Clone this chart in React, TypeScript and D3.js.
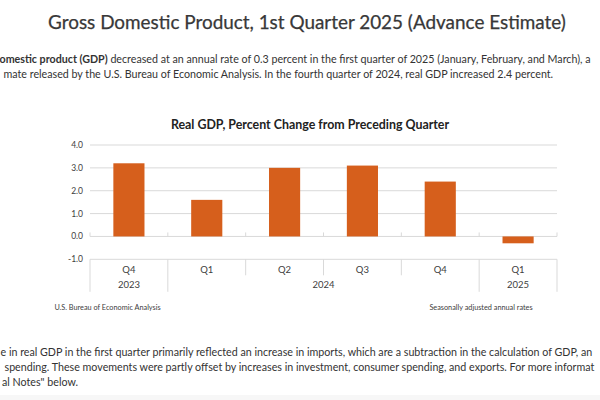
import { useRef, useEffect } from 'react';
import * as d3 from 'd3';

const quarters = ['Q4', 'Q1', 'Q2', 'Q3', 'Q4', 'Q1'];
const years = ['2023', '2024', '2024', '2024', '2024', '2025'];
const values = [3.2, 1.6, 3.0, 3.1, 2.4, -0.3];
const yTicks = [-1, 0, 1, 2, 3, 4];

const pageTitle = 'Gross Domestic Product, 1st Quarter 2025 (Advance Estimate)';
const chartTitle = 'Real GDP, Percent Change from Preceding Quarter';
const sourceNote = 'U.S. Bureau of Economic Analysis';
const rateNote = 'Seasonally adjusted annual rates';

export default function App() {
    const svgRef = useRef<SVGSVGElement>(null);

    useEffect(() => {
        if (!svgRef.current) return;
        const width = 600;
        const height = 400;
        const svg = d3.select(svgRef.current)
            .attr('width', width)
            .attr('height', height)
            .attr('viewBox', `0 0 ${width} ${height}`);
        svg.selectAll('*').remove();

        const font = 'Lato, "Open Sans", sans-serif';
        const bar = '#d65f1c';
        const grid = '#d9d9d9';
        const paraSize = 10.7;

        svg.append('rect').attr('width', width).attr('height', height).attr('fill', '#fff');

        // Page heading
        svg.append('text')
            .attr('x', 307)
            .attr('y', 29)
            .attr('text-anchor', 'middle')
            .attr('font-family', font)
            .attr('font-size', 18.9)
            .attr('fill', '#383838')
            .attr('stroke', '#383838')
            .attr('stroke-width', 0.25)
            .text(pageTitle);

        // Intro paragraph (clipped at the page edges)
        const p1 = svg.append('text')
            .attr('x', -0.5)
            .attr('y', 63)
            .attr('font-family', font)
            .attr('font-size', paraSize)
            .attr('fill', '#333');
        p1.append('tspan').attr('font-weight', 'bold').text('omestic product (GDP)');
        p1.append('tspan').text(' decreased at an annual rate of 0.3 percent in the first quarter of 2025 (January, February, and March), a');

        svg.append('text')
            .attr('x', 3.5)
            .attr('y', 78)
            .attr('font-family', font)
            .attr('font-size', paraSize)
            .attr('fill', '#333')
            .text('mate released by the U.S. Bureau of Economic Analysis. In the fourth quarter of 2024, real GDP increased 2.4 percent.');

        // Chart
        const left = 90;
        const right = 557;
        const idx = values.map((_, i) => String(i));

        const x = d3.scaleBand<string>()
            .domain(idx)
            .range([left, right])
            .paddingInner(0.6)
            .paddingOuter(0.3);
        const step = x.step();
        const edge = (i: number) => left + i * step;

        const y = d3.scaleLinear()
            .domain([-1, 4])
            .range([259.3, 145]);

        svg.append('text')
            .attr('x', 310)
            .attr('y', 129)
            .attr('text-anchor', 'middle')
            .attr('font-family', font)
            .attr('font-weight', 'bold')
            .attr('font-size', 12.4)
            .attr('fill', '#222')
            .text(chartTitle);

        // Grid lines
        const g = svg.append('g');
        g.selectAll('line.grid')
            .data(yTicks)
            .enter()
            .append('line')
            .attr('x1', left)
            .attr('x2', right)
            .attr('y1', d => y(d))
            .attr('y2', d => y(d))
            .attr('stroke', grid)
            .attr('stroke-width', 1);

        // Tick labels
        g.selectAll('text.ytick')
            .data(yTicks)
            .enter()
            .append('text')
            .attr('x', 83)
            .attr('y', d => y(d) + 3)
            .attr('text-anchor', 'end')
            .attr('font-family', font)
            .attr('font-size', 8.5)
            .attr('fill', '#404040')
            .text(d => d.toFixed(1));

        // Small ticks on the zero line
        g.selectAll('line.zt')
            .data(d3.range(values.length + 1))
            .enter()
            .append('line')
            .attr('x1', i => edge(i))
            .attr('x2', i => edge(i))
            .attr('y1', y(0) - 4)
            .attr('y2', y(0))
            .attr('stroke', grid);

        // Bars
        g.selectAll('rect.bar')
            .data(values)
            .enter()
            .append('rect')
            .attr('x', (_, i) => x(String(i)) as number)
            .attr('width', x.bandwidth())
            .attr('y', d => y(Math.max(0, d)))
            .attr('height', d => Math.abs(y(d) - y(0)))
            .attr('fill', bar);

        // Category separators and labels
        const axisY = y(-1);
        const yearStarts = d3.range(values.length + 1).filter(i => i === 0 || i === values.length || years[i] !== years[i - 1]);

        g.selectAll('line.sep')
            .data(d3.range(values.length + 1))
            .enter()
            .append('line')
            .attr('x1', i => edge(i))
            .attr('x2', i => edge(i))
            .attr('y1', axisY)
            .attr('y2', i => yearStarts.includes(i) ? axisY + 32.5 : axisY + 16)
            .attr('stroke', grid);

        g.selectAll('text.q')
            .data(quarters)
            .enter()
            .append('text')
            .attr('x', (_, i) => edge(i) + step / 2)
            .attr('y', axisY + 13.5)
            .attr('text-anchor', 'middle')
            .attr('font-family', font)
            .attr('font-size', 9.5)
            .attr('fill', '#404040')
            .text(d => d);

        const groups = yearStarts.slice(0, -1).map((s, k) => ({ year: years[s], from: s, to: yearStarts[k + 1] }));
        g.selectAll('text.yr')
            .data(groups)
            .enter()
            .append('text')
            .attr('x', d => (edge(d.from) + edge(d.to)) / 2)
            .attr('y', axisY + 28.5)
            .attr('text-anchor', 'middle')
            .attr('font-family', font)
            .attr('font-size', 9.5)
            .attr('fill', '#404040')
            .text(d => d.year);

        // Notes
        svg.append('text')
            .attr('x', 107.5)
            .attr('y', 310)
            .attr('text-anchor', 'middle')
            .attr('font-family', font)
            .attr('font-size', 7.3)
            .attr('fill', '#404040')
            .text(sourceNote);
        svg.append('text')
            .attr('x', 481)
            .attr('y', 310)
            .attr('text-anchor', 'middle')
            .attr('font-family', font)
            .attr('font-size', 7.3)
            .attr('fill', '#404040')
            .text(rateNote);

        // Closing paragraph
        const lines = [
            { x: 0.5, t: 'e in real GDP in the first quarter primarily reflected an increase in imports, which are a subtraction in the calculation of GDP, an' },
            { x: 4.5, t: 'spending. These movements were partly offset by increases in investment, consumer spending, and exports. For more informat' },
            { x: 2, t: 'al Notes" below.' },
        ];
        svg.selectAll('text.para')
            .data(lines)
            .enter()
            .append('text')
            .attr('x', d => d.x)
            .attr('y', (_, i) => 356 + i * 15)
            .attr('font-family', font)
            .attr('font-size', paraSize)
            .attr('fill', '#333')
            .text(d => d.t);

        svg.append('rect')
            .attr('y', 395)
            .attr('width', width)
            .attr('height', 5)
            .attr('fill', '#f7f7f7');
    }, []);

    return (
        <div style={{ position: 'fixed', left: 0, top: 0 }}>
            <svg ref={svgRef} style={{ display: 'block' }} />
        </div>
    );
}
